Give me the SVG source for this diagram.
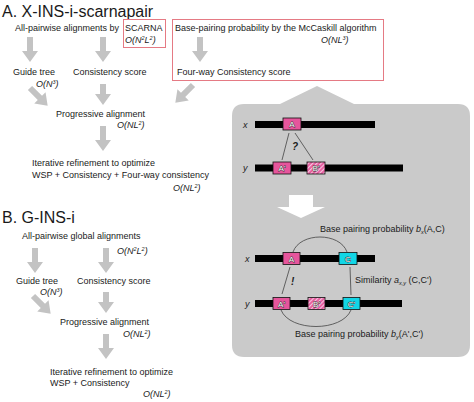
<svg xmlns="http://www.w3.org/2000/svg" width="474" height="402" viewBox="0 0 474 402">
<defs>
<style>
text{font-family:"Liberation Sans",Arial,Helvetica,sans-serif;fill:#1a1a1a;font-size:9px}
.title{font-size:16px}
.it{font-style:italic}
.box{fill:none;stroke:#e57a84;stroke-width:1}
.ga{fill:#c3c3c3}
.bar{fill:#000}
.pk{fill:#e6559c;stroke:#111;stroke-width:0.8}
.pkh{fill:url(#hatch);stroke:#111;stroke-width:0.8}
.cy{fill:#12d6e6;stroke:#111;stroke-width:0.8}
text.bl{font-size:8px;fill:#ffffff;stroke:#333;stroke-width:0.9;paint-order:stroke;text-anchor:middle}
.ln{fill:none;stroke:#444;stroke-width:0.8}
.mk{font-weight:bold;font-style:italic;font-size:10px}
</style>
<pattern id="hatch" width="3" height="3" patternUnits="userSpaceOnUse" patternTransform="rotate(45)">
<rect width="3" height="3" fill="#e6559c"/>
<rect width="1.2" height="3" fill="#f6c6de"/>
</pattern>
<path id="a24" d="M-3,0 H3 V14 H8 L0,25 L-8,14 H-3 Z"/>
<path id="a20" d="M-3,0 H3 V10 H8 L0,21 L-8,10 H-3 Z"/>
</defs>

<rect width="474" height="402" fill="#fff"/>

<g id="panel">
<path d="M244,104 H280 L317,86 L354,104 H458 Q470,104 470,116 V345 Q470,357 458,357 H244 Q232,357 232,345 V116 Q232,104 244,104 Z" fill="#cacaca"/>
<path d="M289,195 H313 V207 H325 L301,218 L277,207 H289 Z" fill="#fff"/>
</g>

<g id="connectors">
<use href="#a24" class="ga" transform="translate(30,37)"/>
<use href="#a24" class="ga" transform="translate(103,37)"/>
<use href="#a24" class="ga" transform="translate(200,37)"/>
<use href="#a24" class="ga" transform="translate(30,88) rotate(-45)"/>
<use href="#a20" class="ga" transform="translate(103,84)"/>
<use href="#a24" class="ga" transform="translate(193,85) rotate(45)"/>
<use href="#a24" class="ga" transform="translate(103,126)"/>
<use href="#a24" class="ga" transform="translate(35,248)"/>
<use href="#a24" class="ga" transform="translate(106,248)"/>
<use href="#a24" class="ga" transform="translate(33,296) rotate(-45)"/>
<use href="#a20" class="ga" transform="translate(106,292)"/>
<use href="#a24" class="ga" transform="translate(106,334)"/>
</g>

<g id="title-a"><text class="title" x="2" y="17">A. X-INS-i-scarnapair</text></g>
<g id="all-pairwise-a"><text x="15" y="31">All-pairwise alignments by</text></g>
<g id="scarna-box">
<rect class="box" x="123.5" y="19.5" width="42" height="28"/>
<text x="125" y="31">SCARNA</text>
<text class="it" x="125" y="43">O(N<tspan font-size="5.5" dy="-3.5">2</tspan><tspan dy="3.5">L</tspan><tspan font-size="5.5" dy="-3.5">2</tspan><tspan dy="3.5">)</tspan></text>
</g>
<g id="mccaskill-box">
<rect class="box" x="172.5" y="19.5" width="211" height="61"/>
<text x="175" y="31">Base-pairing probability by the McCaskill algorithm</text>
<text class="it" x="321" y="43">O(NL<tspan font-size="5.5" dy="-3.5">3</tspan><tspan dy="3.5">)</tspan></text>
<text x="177" y="75">Four-way Consistency score</text>
</g>
<g id="guide-tree-a">
<text x="13" y="75">Guide tree</text>
<text class="it" x="36" y="87">O(N<tspan font-size="5.5" dy="-3.5">3</tspan><tspan dy="3.5">)</tspan></text>
</g>
<g id="consistency-a"><text x="73" y="75">Consistency score</text></g>
<g id="progressive-a">
<text x="56" y="117">Progressive alignment</text>
<text class="it" x="117" y="128">O(NL<tspan font-size="5.5" dy="-3.5">2</tspan><tspan dy="3.5">)</tspan></text>
</g>
<g id="iterative-a">
<text x="32" y="166">Iterative refinement to optimize</text>
<text x="32" y="178">WSP + Consistency + Four-way consistency</text>
<text class="it" x="173" y="191">O(NL<tspan font-size="5.5" dy="-3.5">2</tspan><tspan dy="3.5">)</tspan></text>
</g>

<g id="title-b"><text class="title" x="2" y="223">B. G-INS-i</text></g>
<g id="all-pairwise-b">
<text x="22" y="239">All-pairwise global alignments</text>
<text class="it" x="117" y="254">O(N<tspan font-size="5.5" dy="-3.5">2</tspan><tspan dy="3.5">L</tspan><tspan font-size="5.5" dy="-3.5">2</tspan><tspan dy="3.5">)</tspan></text>
</g>
<g id="guide-tree-b">
<text x="16" y="284">Guide tree</text>
<text class="it" x="40" y="295">O(N<tspan font-size="5.5" dy="-3.5">3</tspan><tspan dy="3.5">)</tspan></text>
</g>
<g id="consistency-b"><text x="77" y="284">Consistency score</text></g>
<g id="progressive-b">
<text x="60" y="325">Progressive alignment</text>
<text class="it" x="123" y="337">O(NL<tspan font-size="5.5" dy="-3.5">2</tspan><tspan dy="3.5">)</tspan></text>
</g>
<g id="iterative-b">
<text x="50" y="375">Iterative refinement to optimize</text>
<text x="50" y="386">WSP + Consistency</text>
<text class="it" x="143" y="397">O(NL<tspan font-size="5.5" dy="-3.5">2</tspan><tspan dy="3.5">)</tspan></text>
</g>

<g id="upper-seqs">
<text class="it" x="243" y="128">x</text>
<text class="it" x="243" y="171">y</text>
<rect class="bar" x="255" y="121" width="120" height="7"/>
<rect class="bar" x="255" y="164.5" width="148" height="7"/>
<path class="ln" d="M289,133 L282,160 M295,133 L313,160"/>
<text class="mk" x="292" y="150">?</text>
<g id="u-A"><rect class="pk" x="283" y="118" width="18" height="12"/><text class="bl" x="292" y="127">A</text></g>
<g id="u-A2"><rect class="pk" x="273" y="162" width="18" height="12"/><text class="bl" x="282" y="171">A'</text></g>
<g id="u-B2"><rect class="pkh" x="307" y="162" width="18" height="12"/><text class="bl" x="316" y="171">B'</text></g>
</g>

<g id="lower-seqs">
<text x="320" y="232">Base pairing probability <tspan class="it">b</tspan><tspan font-size="5.5" dy="2" class="it">x</tspan><tspan dy="-2">(A,C)</tspan></text>
<path class="ln" d="M293,252 C300,232 340,232 347,252"/>
<text class="it" x="245" y="262">x</text>
<text class="it" x="245" y="307">y</text>
<rect class="bar" x="255" y="255" width="120" height="7"/>
<rect class="bar" x="255" y="300" width="147" height="7"/>
<path class="ln" d="M290,267 L282,294 M350,267 L351,295"/>
<text class="mk" x="291" y="285">!</text>
<text x="355" y="283">Similarity <tspan class="it">a</tspan><tspan font-size="5.5" dy="2" class="it">x,y</tspan><tspan dy="-2"> (C,C')</tspan></text>
<path class="ln" d="M281,310 C290,332 342,332 351,310"/>
<text x="295" y="337">Base pairing probability <tspan class="it">b</tspan><tspan font-size="5.5" dy="2" class="it">y</tspan><tspan dy="-2">(A',C')</tspan></text>
<g id="l-A"><rect class="pk" x="283" y="252.5" width="17" height="12"/><text class="bl" x="291.5" y="261.5">A</text></g>
<g id="l-C"><rect class="cy" x="339" y="252.5" width="18" height="12"/><text class="bl" x="348" y="261.5">C</text></g>
<g id="l-A2"><rect class="pk" x="273" y="297.5" width="17" height="12"/><text class="bl" x="281.5" y="306.5">A'</text></g>
<g id="l-B2"><rect class="pkh" x="308" y="297.5" width="17" height="12"/><text class="bl" x="316.5" y="306.5">B'</text></g>
<g id="l-C2"><rect class="cy" x="343" y="297.5" width="17" height="12"/><text class="bl" x="351.5" y="306.5">C'</text></g>
</g>
</svg>
